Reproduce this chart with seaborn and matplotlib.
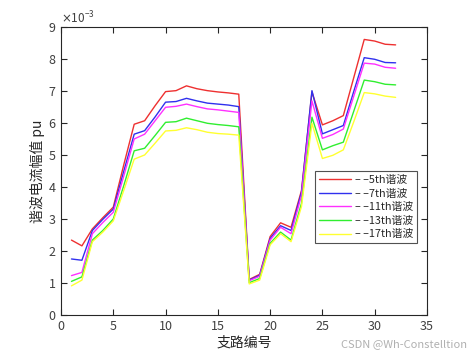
import numpy as np
import pandas as pd
import matplotlib
matplotlib.use('Agg')
import matplotlib.pyplot as plt
import seaborn as sns

# branch numbers and harmonic current amplitudes (x1e-3 pu)
branch = list(range(1, 33))
h5 = [2.35, 2.17, 2.70, 3.05, 3.38, 4.70, 5.97, 6.08, 6.55, 6.99, 7.02, 7.17, 7.08, 7.02, 6.98, 6.95,
      6.91, 1.12, 1.28, 2.46, 2.89, 2.75, 3.90, 6.98, 5.95, 6.08, 6.24, 7.43, 8.62, 8.57, 8.47, 8.45]
h7 = [1.76, 1.72, 2.65, 3.00, 3.32, 4.50, 5.66, 5.77, 6.20, 6.66, 6.68, 6.78, 6.70, 6.63, 6.60, 6.57,
      6.52, 1.10, 1.25, 2.40, 2.80, 2.65, 3.85, 7.02, 5.67, 5.80, 5.93, 7.00, 8.05, 8.00, 7.90, 7.89]
h11 = [1.24, 1.34, 2.55, 2.90, 3.22, 4.35, 5.51, 5.66, 6.08, 6.50, 6.53, 6.60, 6.52, 6.45, 6.42, 6.38,
       6.34, 1.08, 1.22, 2.35, 2.75, 2.55, 3.75, 6.70, 5.53, 5.65, 5.82, 6.85, 7.88, 7.85, 7.75, 7.72]
h13 = [1.06, 1.20, 2.35, 2.65, 3.01, 4.05, 5.14, 5.22, 5.62, 6.03, 6.05, 6.16, 6.08, 6.00, 5.96, 5.93,
       5.89, 1.02, 1.15, 2.25, 2.60, 2.35, 3.50, 6.19, 5.17, 5.30, 5.41, 6.38, 7.35, 7.30, 7.22, 7.20]
h17 = [0.92, 1.10, 2.30, 2.60, 2.95, 3.90, 4.88, 5.01, 5.38, 5.76, 5.78, 5.86, 5.80, 5.72, 5.68, 5.66,
       5.63, 0.98, 1.10, 2.20, 2.55, 2.30, 3.40, 6.00, 4.90, 5.00, 5.17, 6.05, 6.96, 6.92, 6.85, 6.81]
labels = ['– –5th谐波', '– –7th谐波', '– –11th谐波', '– –13th谐波', '– –17th谐波']
colors = ['#ee3030', '#3030ee', '#ff30ff', '#30ee30', '#ffff30']

frames = []
for lab, vals in zip(labels, [h5, h7, h11, h13, h17]):
    frames.append(pd.DataFrame({'branch': branch, 'amp': np.array(vals) * 1e-3, 'order': lab}))
df = pd.concat(frames, ignore_index=True)

sns.set_theme(style='white')
plt.rcParams['font.family'] = ['Noto Sans CJK SC', 'DejaVu Sans']
plt.rcParams['axes.unicode_minus'] = False

fig = plt.figure(figsize=(4.74, 3.53), dpi=100)
ax = fig.add_axes([0.1287, 0.1068, 0.7721, 0.8159])
sns.lineplot(data=df, x='branch', y='amp', hue='order', hue_order=labels, palette=colors,
             linewidth=1.0, ax=ax)

ax.set_xlim(0, 35)
ax.set_ylim(0, 9e-3)
ax.set_xticks(range(0, 36, 5))
ax.set_yticks(np.arange(0, 10) * 1e-3)
ax.ticklabel_format(axis='y', style='sci', scilimits=(-3, -3), useMathText=True)
ax.yaxis.get_offset_text().set_fontsize(8.5)
ax.yaxis.get_offset_text().set_color('#404040')
ax.tick_params(direction='in', length=4, width=0.8, labelsize=9, colors='#262626',
               labelcolor='#404040', top=True, right=True, bottom=True, left=True)
for s in ax.spines.values():
    s.set_color('#262626')
    s.set_linewidth(0.8)
ax.set_xlabel('支路编号', fontsize=10, color='#262626', labelpad=2)
ax.set_ylabel('谐波电流幅值 pu', fontsize=10, color='#262626', labelpad=2)

leg = ax.legend(loc='upper left', bbox_to_anchor=(0.694, 0.50), fontsize=7.8, frameon=True,
                fancybox=False, edgecolor='#262626', handlelength=3.0, handletextpad=0.3,
                borderpad=0.35, labelspacing=0.33, borderaxespad=0)
leg.get_frame().set_linewidth(0.8)

fig.text(0.985, 0.01, 'CSDN @Wh-Constelltion', ha='right', va='bottom', fontsize=8, color='#b0b0b0')

fig.savefig('out.png', dpi=100, facecolor='white')
